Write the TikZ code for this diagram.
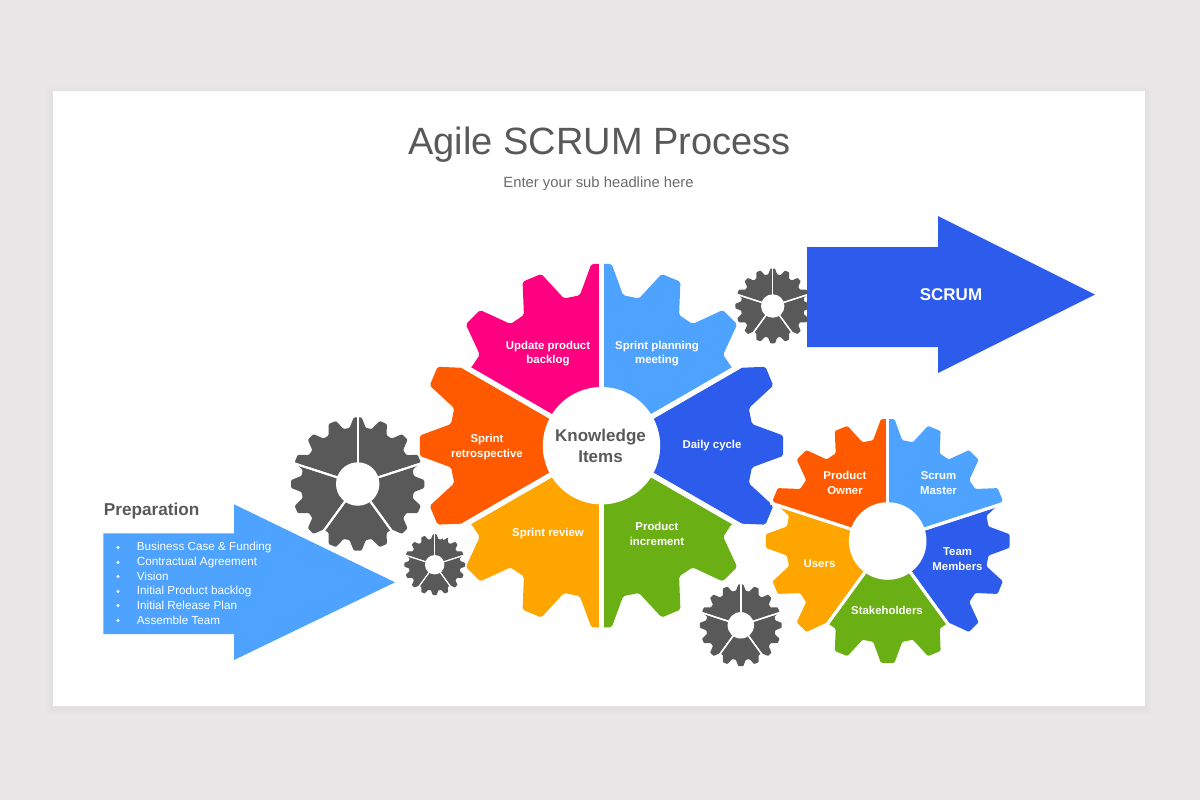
\documentclass[tikz,border=0pt]{standalone}
\usepackage{fontspec}
\setmainfont{Liberation Sans}
\definecolor{bgc}{HTML}{E8E6E7}
\definecolor{gearblue}{HTML}{4DA3FF}
\definecolor{gearpink}{HTML}{FF0080}
\definecolor{geardark}{HTML}{2D5BEB}
\definecolor{gearorange}{HTML}{FF5A00}
\definecolor{gearyellow}{HTML}{FFA500}
\definecolor{geargreen}{HTML}{6AAF14}
\definecolor{gearslate}{HTML}{595959}
\definecolor{subtext}{HTML}{6B6B6B}
\tikzset{
  label/.style={text=white,align=center,inner sep=0pt,font=\fontsize{5.7}{7.4}\selectfont\bfseries},
}
% tooth profile: tip half-angle, base half-angle, root ratio, corner rounding
\newcommand{\gtip}{3.2}
\newcommand{\gbase}{8.2}
\newcommand{\groot}{0.835}
\newcommand{\ground}{0.005}
% gear outline: 16 teeth, tooth centred at 90 deg; #1 = outer radius
\newcommand{\gearoutline}[1]{
  (90:#1) foreach \k in {0,...,15} {
    -- ({90-22.5*\k-\gtip}:#1)
    -- ({90-22.5*\k-\gbase}:{\groot*#1})
    -- ({90-22.5*\k-22.5+\gbase}:{\groot*#1})
    -- ({90-22.5*\k-22.5+\gtip}:#1)
  } -- cycle
}
% #1 x, #2 y, #3 R, #4 hub radius, #5 gap (px), #6 list a1/a2/colour
\newcommand{\gearwheel}[6]{
  \begin{scope}[shift={(#1,#2)},yscale=-1]
    \foreach \aa/\bb/\cc in {#6} {
      \begin{scope}
        \clip (0,0) -- (\aa:{2*#3}) -- ({(\aa+\bb)/2}:{2*#3}) -- (\bb:{2*#3}) -- cycle;
        \fill[\cc,rounded corners={\ground*#3 pt}] \gearoutline{#3};
      \end{scope}
    }
    \foreach \aa/\bb/\cc in {#6} {
      \draw[white,line width={#5*0.5pt}] (0,0) -- (\aa:{1.01*#3});
      \draw[white,line width={#5*0.5pt}] (0,0) -- (\bb:{1.01*#3});
    }
    \fill[white] (0,0) circle (#4);
  \end{scope}
}
\newcommand{\slategear}[5]{{%
  \renewcommand{\gtip}{3.4}\renewcommand{\gbase}{8.2}\renewcommand{\groot}{0.85}\renewcommand{\ground}{0.008}%
  \gearwheel{#1}{#2}{#3}{#4}{#5}{90/18/gearslate,18/-54/gearslate,-54/-126/gearslate,-126/-198/gearslate,162/90/gearslate}}}
\begin{document}
\begin{tikzpicture}[x=0.5pt,y=-0.5pt]
\useasboundingbox (0,0) rectangle (1200,800);
\fill[bgc] (0,0) rectangle (1200,800);
% card with soft shadow
\foreach \s in {6,4,2}{
  \fill[black,opacity=0.006] (53-\s,91-\s+2) rectangle (1145+\s,706+\s+2);
}
\fill[white] (53,91) rectangle (1145,706);
\node[text=gearslate,inner sep=0pt,font=\fontsize{19}{23}\selectfont] (title) at (599.5,145) {Agile SCRUM Process};
\node[text=subtext,inner sep=0pt,font=\fontsize{7.4}{9}\selectfont] (sub) at (598.5,183.5) {Enter your sub headline here};

% dark gears (behind arrows)
\slategear{357.7}{484}{66.7}{21.7}{2}
\slategear{434.7}{564.7}{30.5}{9.7}{1}
\slategear{772.7}{306}{37.5}{11.7}{1.3}
\slategear{740.8}{625.3}{41}{13.2}{1.4}

% big gear
\gearwheel{601.5}{445.7}{182}{58.7}{5}{90/30/gearblue,30/-30/geardark,-30/-90/geargreen,-90/-150/gearyellow,-150/-210/gearorange,150/90/gearpink}
\node[label] (n1) at (548,353.5) {Update product\\backlog};
\node[label] (n2) at (657,353.5) {Sprint planning\\meeting};
\node[label] (n3) at (487,447) {Sprint\\retrospective};
\node[label] (n4) at (712,446) {Daily cycle};
\node[label] (n5) at (548,534) {Sprint review};
\node[label] (n6) at (657,534) {Product\\increment};
\node[text=gearslate,align=center,inner sep=0pt,font=\fontsize{8.5}{10.5}\selectfont\bfseries] (hub) at (600.5,445.5) {Knowledge\\Items};

% team gear
\gearwheel{887.7}{541}{122}{38.8}{3}{90/18/gearblue,18/-54/geardark,-54/-126/geargreen,-126/-198/gearyellow,162/90/gearorange}
\node[label] (t1) at (845,483) {Product\\Owner};
\node[label] (t2) at (938.5,483) {Scrum\\Master};
\node[label] (t3) at (957.5,559) {Team\\Members};
\node[label] (t4) at (819.5,564) {Users};
\node[label] (t5) at (887,610) {Stakeholders};

% arrows
\fill[geardark] (807,247) -- (938,247) -- (938,216) -- (1095,294.5) -- (938,373) -- (938,347) -- (807,347) -- cycle;
\node[text=white,inner sep=0pt,font=\fontsize{8.5}{10}\selectfont\bfseries] (scrum) at (951,294.5) {SCRUM};
\fill[gearblue] (103.3,533.3) -- (234,533.3) -- (234,504.3) -- (395,582.3) -- (234,660) -- (234,634) -- (103.3,634) -- cycle;
\node[text=gearslate,anchor=west,inner sep=0pt,font=\fontsize{8.6}{10}\selectfont\bfseries] (prep) at (103.5,511) {Preparation};
\foreach \yy/\tt [count=\i] in {547.5/Business Case \& Funding,562.5/Contractual Agreement,576.5/Vision,591.5/Initial Product backlog,605.5/Initial Release Plan,620.5/Assemble Team}{
  \node[text=white,anchor=west,inner sep=0pt,font=\fontsize{5.85}{7}\selectfont] (li\i) at (136.5,\yy) {\tt};
  \fill[white] (118,\yy) circle (1.6);
}
\end{tikzpicture}
\end{document}
